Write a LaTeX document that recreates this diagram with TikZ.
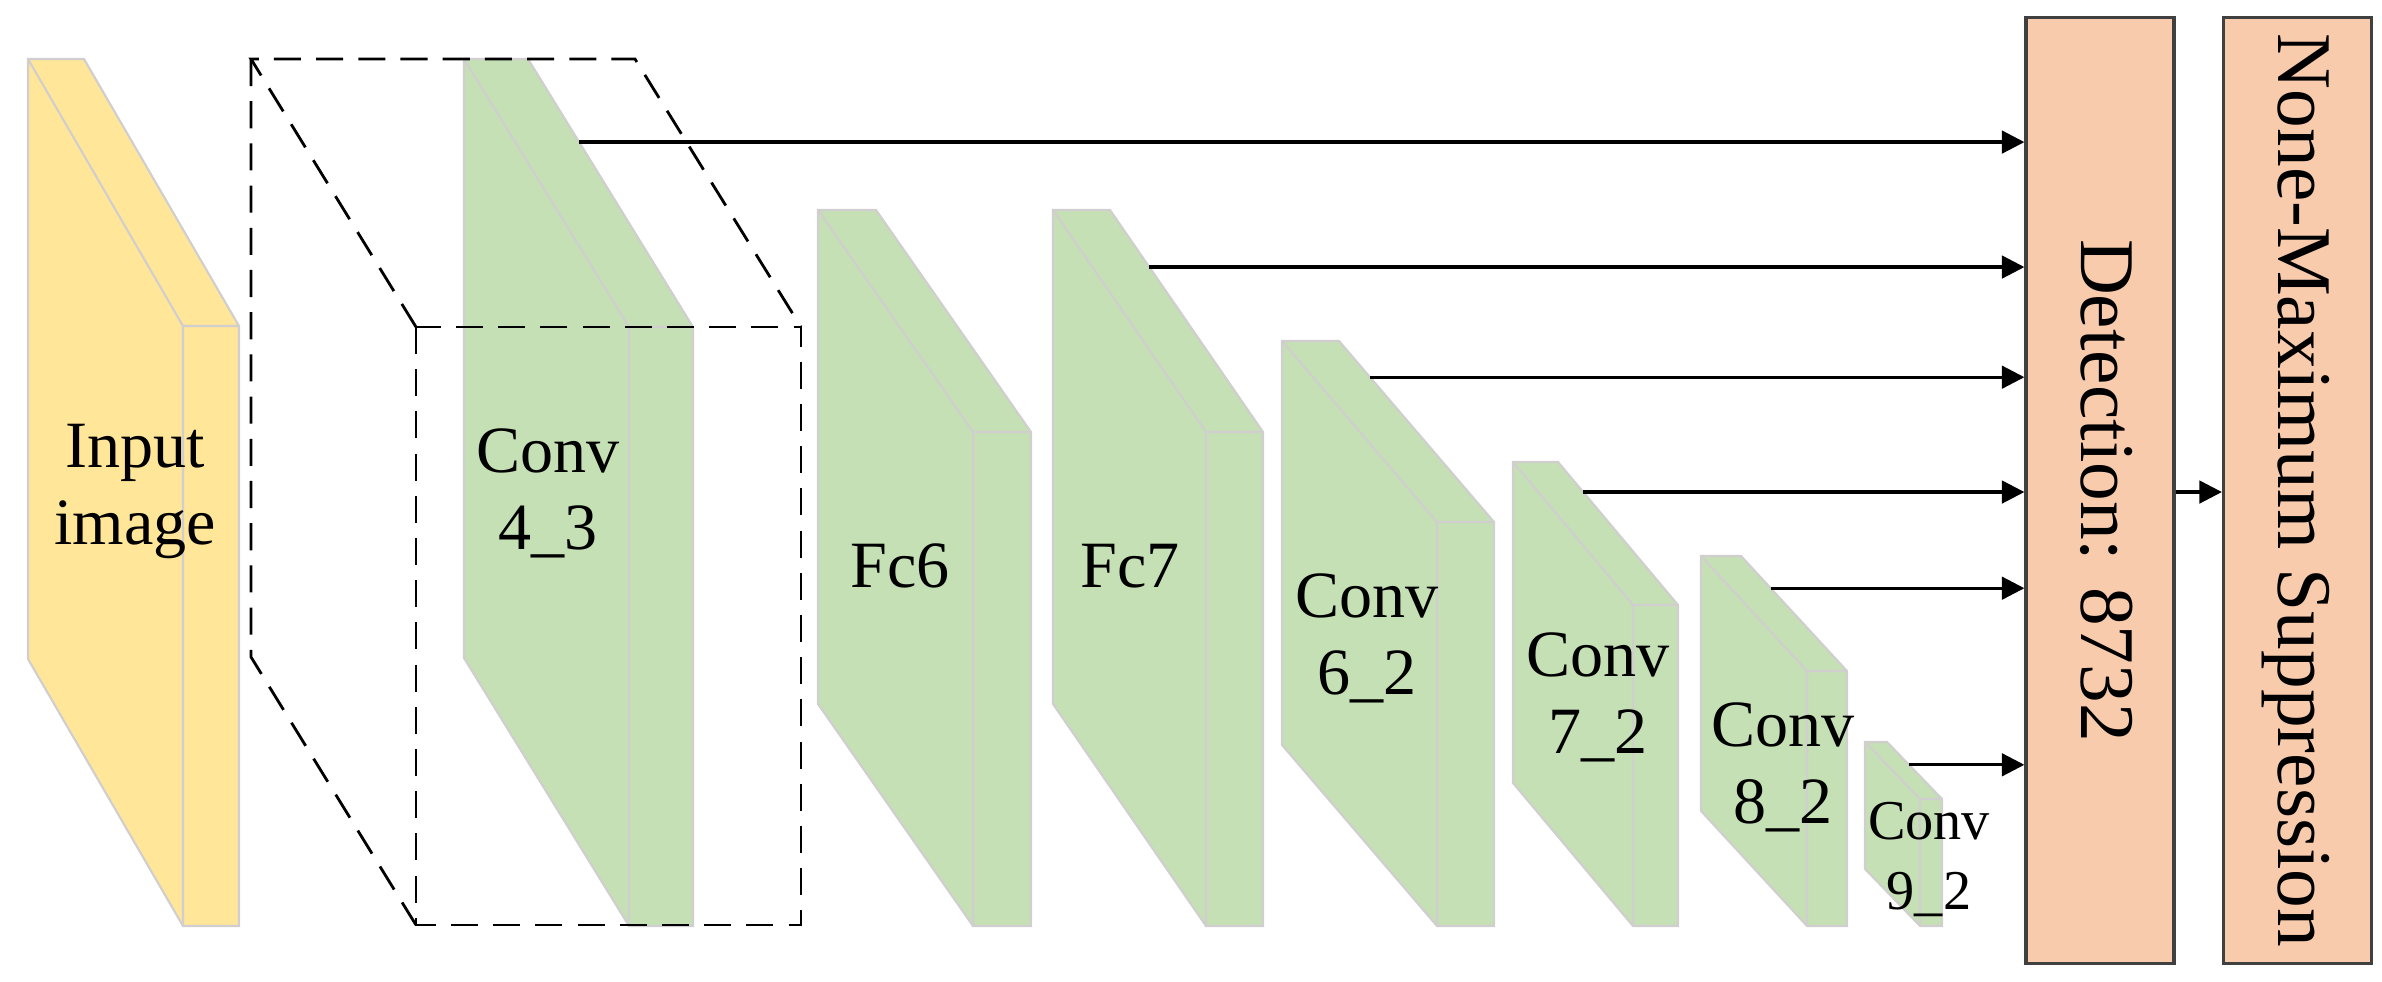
\documentclass[tikz,border=0pt]{standalone}
\usepackage{fontspec}
\setmainfont{Liberation Serif}
\usetikzlibrary{calc,arrows.meta}
\definecolor{inputyellow}{HTML}{FFE699}
\definecolor{convgreen}{HTML}{C5E0B4}
\definecolor{boxpeach}{HTML}{F8CBAD}
\definecolor{edgegray}{HTML}{D0CECE}
\definecolor{boxline}{HTML}{404040}
\tikzset{
	slabedge/.style={draw=edgegray, line width=0.6pt},
	layertext/.style={align=center, inner sep=0pt, font=\fontsize{18.8}{21.9}\selectfont},
	dashbox/.style={line width=0.8pt, dash pattern=on 7.7pt off 4.3pt},
	outbox/.style={draw=boxline, fill=boxpeach, line width=0.9pt, minimum width=1.48cm, minimum height=9.45cm, inner sep=0pt, font=\fontsize{22}{26.4}\selectfont},
	feed/.style={line width=0.9pt, -{Triangle[length=6.4pt,width=6.4pt]}}
}
\def\slab[#1](#2,#3)(#4:#5:#6)#7{
	\coordinate (#7-a) at (#2,#3);
	\coordinate (#7-b) at (#2+#4,#3);
	\coordinate (#7-c) at (#2+#4+#5,#3+#6);
	\coordinate (#7-g) at (#2+#5,#3+#6);
	\draw[slabedge, fill=#1] (#7-a) -- (#7-b) -- (#7-c) -- (#2+#4+#5,926) -- (#2+#5,926) -- (#2,926-#6) -- cycle;
	\draw[slabedge] (#7-a) -- (#7-g) -- (#7-c) (#7-g) -- (#2+#5,926);
}

\begin{document}
\begin{tikzpicture}[x=0.01cm, y=-0.01cm]
			%%%%% START %%%%%
			\useasboundingbox (0,0) rectangle (2382,982);
			
			\slab[inputyellow](28,59)(56:155:267){inp}
			\slab[convgreen](464,59)(64:165:268){c43}
			\slab[convgreen](818,210)(58:155:222){fc6}
			\slab[convgreen](1053,210)(57:153:222){fc7}
			\slab[convgreen](1282,341)(57:155:181){c62}
			\slab[convgreen](1513,462)(45:120:143){c72}
			\slab[convgreen](1701,556)(40:106:115){c82}
			\slab[convgreen](1865,742)(22:55:57){c92}
			
			\draw[dashbox] (416,327) rectangle (801,925);
			\draw[dashbox] (416,327) -- (251,59) -- (635,59) -- (801,327);
			\draw[dashbox] (251,59) -- (251,657) -- (416,925);
			
			\node[layertext] (tinp) at (135,491) {Input\\image};
			\node[layertext] (tc43) at (548,493) {Conv\\4\_3};
			\node[layertext] (tfc6) at (900,566) {Fc6};
			\node[layertext] (tfc7) at (1130,566) {Fc7};
			\node[layertext] (tc62) at (1367,638) {Conv\\6\_2};
			\node[layertext] (tc72) at (1598,697) {Conv\\7\_2};
			\node[layertext] (tc82) at (1783,767) {Conv\\8\_2};
			\node[layertext, font=\fontsize{16}{19.9}\selectfont] (tc92) at (1929,859) {Conv\\9\_2};
			
			\node[outbox] (det) at (2100,490.5) {\rotatebox{-90}{\strut Detection: 8732}};
			\node[outbox] (nms) at (2297.5,490.5) {\rotatebox{-90}{\strut None-Maximum Suppression}};
			
			\coordinate (c43-o) at ($(c43-b)!0.31!(c43-c)$);
			\coordinate (fc7-o) at ($(fc7-b)!0.257!(fc7-c)$);
			\coordinate (c62-o) at ($(c62-b)!0.2!(c62-c)$);
			\coordinate (c72-o) at ($(c72-b)!0.21!(c72-c)$);
			\coordinate (c82-o) at ($(c82-b)!0.28!(c82-c)$);
			\coordinate (c92-o) at ($(c92-b)!0.4!(c92-c)$);
			
			\draw[feed] (c43-o) -- (det.west |- c43-o);
			\draw[feed] (fc7-o) -- (det.west |- fc7-o);
			\draw[feed] (c62-o) -- (det.west |- c62-o);
			\draw[feed] (c72-o) -- (det.west |- c72-o);
			\draw[feed] (c82-o) -- (det.west |- c82-o);
			\draw[feed] (c92-o) -- (det.west |- c92-o);
			\draw[feed] (det.east |- c72-o) -- (nms.west |- c72-o);
			
			%%%%% END %%%%%
\end{tikzpicture}
\end{document}
